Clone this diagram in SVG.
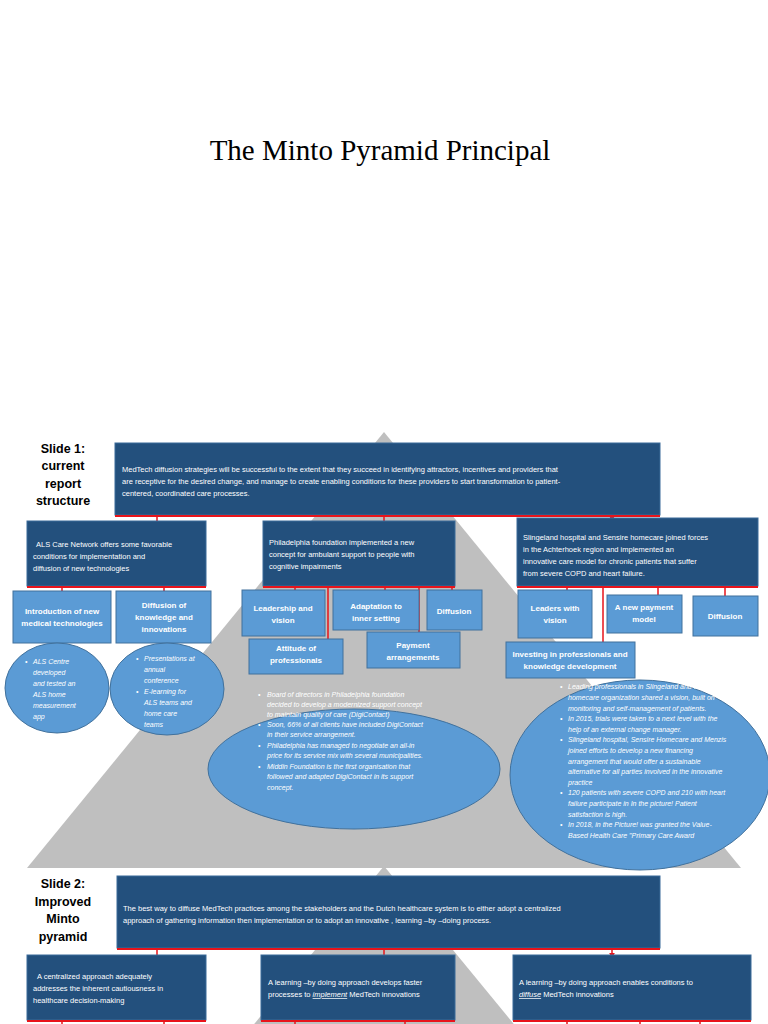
<svg xmlns="http://www.w3.org/2000/svg" width="768" height="1024" viewBox="0 0 768 1024">
<style>
.dk{fill:#23507d;stroke:#3a6a99;stroke-width:1}
.lt{fill:#5b9bd5;stroke:#41719c;stroke-width:1}
.sh{stroke:#e8141b;stroke-width:2}
.t{font-family:"Liberation Sans",Arial,sans-serif;fill:#fff;font-size:7.5px}
.tb{font-family:"Liberation Sans",Arial,sans-serif;fill:#fff;font-size:8px;font-weight:bold}
.ti{font-family:"Liberation Sans",Arial,sans-serif;fill:#fff;font-size:7px;font-style:italic}
.sl{font-family:"Liberation Sans",Arial,sans-serif;fill:#000;font-size:12.5px;font-weight:bold;text-anchor:middle}
.c{stroke:#e8141b;stroke-width:1.5;fill:none}
</style>
<defs><marker id="a" viewBox="0 0 10 10" refX="9" refY="5" markerWidth="4" markerHeight="4" orient="auto"><path d="M0,0L10,5L0,10z" fill="#e8141b"/></marker></defs>
<rect width="768" height="1024" fill="#fff"/>
<text x="380" y="160" text-anchor="middle" font-family="Liberation Serif,serif" font-size="29">The Minto Pyramid Principal</text>
<polygon points="384,432 27,868 741,868" fill="#bfbfbf"/>
<polygon points="384,866 200,1090 568,1090" fill="#bfbfbf"/>
<text class="sl" x="63" y="453">Slide 1:</text><text class="sl" x="63" y="470">current</text><text class="sl" x="63" y="488">report</text><text class="sl" x="63" y="505">structure</text>
<text class="sl" x="63" y="888">Slide 2:</text><text class="sl" x="63" y="906">Improved</text><text class="sl" x="63" y="923">Minto</text><text class="sl" x="63" y="941">pyramid</text>
<g id="connectors">
<path class="c" marker-end="url(#a)" d="M157,515V524M384,515V524M612,515V521"/>
<path class="c" d="M62,586V591M164,586V591M295,586V590M328,586V639M385,586V590M419,586V632M452,586V590M567,586V590M603,586V642M658,586V595M725,586V596"/>
<path class="c" marker-end="url(#a)" d="M157,948V958M384,948V958M612,948V958"/>
<path class="c" d="M62,1020V1024M164,1020V1024M295,1020V1024M405,1020V1024M567,1020V1024M640,1020V1024M700,1020V1024"/>
</g>
<g id="top1"><rect class="dk" x="115" y="443" width="545" height="72"/><line class="sh" x1="115" y1="516" x2="660" y2="516"/>
<text class="t" x="122" y="472">MedTech diffusion strategies will be successful to the extent that they succeed in identifying attractors, incentives and providers that</text>
<text class="t" x="122" y="484">are receptive for the desired change, and manage to create enabling conditions for these providers to start transformation to patient-</text>
<text class="t" x="122" y="496">centered, coordinated care processes.</text></g>
<g id="L1"><rect class="dk" x="27" y="521" width="179" height="65"/><line class="sh" x1="27" y1="587" x2="206" y2="587"/>
<text class="t" x="36" y="547">ALS Care Network offers some favorable</text><text class="t" x="33" y="559">conditions for implementation and</text><text class="t" x="33" y="571">diffusion of new technologies</text></g>
<g id="M1"><rect class="dk" x="263" y="521" width="192" height="65"/><line class="sh" x1="263" y1="587" x2="455" y2="587"/>
<text class="t" x="269" y="545">Philadelphia foundation implemented a new</text><text class="t" x="269" y="557">concept for ambulant support to people with</text><text class="t" x="269" y="569">cognitive impairments</text></g>
<g id="R1"><rect class="dk" x="517" y="518" width="241" height="68"/><line class="sh" x1="517" y1="587" x2="758" y2="587"/>
<text class="t" x="523" y="540">Slingeland hospital and Sensire homecare joined forces</text><text class="t" x="523" y="552">in the Achterhoek region and implemented an</text><text class="t" x="523" y="564">innovative care model for chronic patients that suffer</text><text class="t" x="523" y="576">from severe COPD and heart failure.</text></g>
<g id="n1"><rect class="lt" x="13" y="591" width="98" height="52"/><text class="tb" x="62" y="614" text-anchor="middle">Introduction of new</text><text class="tb" x="62" y="626" text-anchor="middle">medical technologies</text></g>
<g id="n2"><rect class="lt" x="116" y="591" width="95" height="52"/><text class="tb" x="164" y="608" text-anchor="middle">Diffusion of</text><text class="tb" x="164" y="620" text-anchor="middle">knowledge and</text><text class="tb" x="164" y="632" text-anchor="middle">innovations</text></g>
<g id="e1"><ellipse class="lt" cx="57" cy="688" rx="52" ry="45"/><text class="ti" x="25" y="664">•</text><text class="ti" x="33" y="664">ALS Centre</text><text class="ti" x="33" y="675">developed</text><text class="ti" x="33" y="686">and tested an</text><text class="ti" x="33" y="697">ALS home</text><text class="ti" x="33" y="708">measurement</text><text class="ti" x="33" y="719">app</text></g>
<g id="e2"><ellipse class="lt" cx="167" cy="689" rx="57" ry="46"/><text class="ti" x="136" y="661">•</text><text class="ti" x="144" y="661">Presentations at</text><text class="ti" x="144" y="672">annual</text><text class="ti" x="144" y="683">conference</text><text class="ti" x="136" y="694">•</text><text class="ti" x="144" y="694">E-learning for</text><text class="ti" x="144" y="705">ALS teams and</text><text class="ti" x="144" y="716">home care</text><text class="ti" x="144" y="727">teams</text></g>
<g id="n3"><rect class="lt" x="242" y="590" width="83" height="46"/><text class="tb" x="283" y="611" text-anchor="middle">Leadership and</text><text class="tb" x="283" y="623" text-anchor="middle">vision</text></g>
<g id="n4"><rect class="lt" x="249" y="639" width="94" height="35"/><text class="tb" x="296" y="651" text-anchor="middle">Attitude of</text><text class="tb" x="296" y="663" text-anchor="middle">professionals</text></g>
<g id="n5"><rect class="lt" x="333" y="590" width="86" height="40"/><text class="tb" x="376" y="609" text-anchor="middle">Adaptation to</text><text class="tb" x="376" y="621" text-anchor="middle">inner setting</text></g>
<g id="n6"><rect class="lt" x="367" y="632" width="93" height="36"/><text class="tb" x="413" y="648" text-anchor="middle">Payment</text><text class="tb" x="413" y="660" text-anchor="middle">arrangements</text></g>
<g id="n7"><rect class="lt" x="427" y="590" width="55" height="40"/><text class="tb" x="454" y="614" text-anchor="middle">Diffusion</text></g>
<g id="e3"><ellipse class="lt" cx="354" cy="769" rx="146" ry="60"/>
<text class="ti" x="258" y="697">•</text><text class="ti" x="267" y="697">Board of directors in Philadelphia foundation</text><text class="ti" x="267" y="707">decided to develop a modernized support concept</text><text class="ti" x="267" y="717">to maintain quality of care (DigiContact)</text>
<text class="ti" x="258" y="727">•</text><text class="ti" x="267" y="727">Soon, 66% of all clients have included DigiContact</text><text class="ti" x="267" y="737">in their service arrangement.</text>
<text class="ti" x="258" y="748">•</text><text class="ti" x="267" y="748">Philadelphia has managed to negotiate an all-in</text><text class="ti" x="267" y="758">price for its service mix with several municipalities.</text>
<text class="ti" x="258" y="769">•</text><text class="ti" x="267" y="769">Middin Foundation is the first organisation that</text><text class="ti" x="267" y="779">followed and adapted DigiContact in its support</text><text class="ti" x="267" y="790">concept.</text></g>
<g id="n8"><rect class="lt" x="518" y="590" width="74" height="48"/><text class="tb" x="555" y="611" text-anchor="middle">Leaders with</text><text class="tb" x="555" y="623" text-anchor="middle">vision</text></g>
<g id="n9"><rect class="lt" x="607" y="595" width="75" height="38"/><text class="tb" x="644" y="610" text-anchor="middle">A new payment</text><text class="tb" x="644" y="622" text-anchor="middle">model</text></g>
<g id="n10"><rect class="lt" x="693" y="596" width="65" height="40"/><text class="tb" x="725" y="619" text-anchor="middle">Diffusion</text></g>
<g id="n11"><rect class="lt" x="506" y="642" width="129" height="36"/><text class="tb" x="570" y="657" text-anchor="middle">Investing in professionals and</text><text class="tb" x="570" y="669" text-anchor="middle">knowledge development</text></g>
<g id="e4"><ellipse class="lt" cx="640" cy="775" rx="130" ry="95"/>
<text class="ti" x="560" y="689">•</text><text class="ti" x="568" y="689">Leading professionals in Slingeland and the</text><text class="ti" x="568" y="700">homecare organization shared a vision, built on</text><text class="ti" x="568" y="711">monitoring and self-management of patients.</text>
<text class="ti" x="560" y="721">•</text><text class="ti" x="568" y="721">In 2015, trials were taken to a next level with the</text><text class="ti" x="568" y="732">help of an external change manager.</text>
<text class="ti" x="560" y="742">•</text><text class="ti" x="568" y="742">Slingeland hospital, Sensire Homecare and Menzis</text><text class="ti" x="568" y="753">joined efforts to develop a new financing</text><text class="ti" x="568" y="764">arrangement that would offer a sustainable</text><text class="ti" x="568" y="774">alternative for all parties involved in the innovative</text><text class="ti" x="568" y="785">practice</text>
<text class="ti" x="560" y="795">•</text><text class="ti" x="568" y="795">120 patients with severe COPD and 210 with heart</text><text class="ti" x="568" y="806">failure participate in In the picture! Patient</text><text class="ti" x="568" y="817">satisfaction is high.</text>
<text class="ti" x="560" y="827">•</text><text class="ti" x="568" y="827">In 2018, in the Picture! was granted the Value-</text><text class="ti" x="568" y="838">Based Health Care "Primary Care Award</text></g>
<g id="top2"><rect class="dk" x="117" y="876" width="543" height="72"/><line class="sh" x1="117" y1="949" x2="660" y2="949"/>
<text class="t" x="123" y="911">The best way to diffuse MedTech practices among the stakeholders and the Dutch healthcare system is  to either adopt a centralized</text>
<text class="t" x="123" y="923">approach of gathering information then implementation or to adopt an innovative , learning –by –doing process.</text></g>
<g id="L2"><rect class="dk" x="27" y="955" width="179" height="65"/><line class="sh" x1="27" y1="1021" x2="206" y2="1021"/>
<text class="t" x="37" y="979">A centralized approach adequately</text><text class="t" x="33" y="991">addresses the inherent cautiousness in</text><text class="t" x="33" y="1003">healthcare decision-making</text></g>
<g id="M2"><rect class="dk" x="261" y="955" width="194" height="65"/><line class="sh" x1="261" y1="1021" x2="455" y2="1021"/>
<text class="t" x="268" y="985">A learning –by doing approach develops faster</text><text class="t" x="268" y="997">processes to <tspan text-decoration="underline" font-style="italic">implement</tspan>  MedTech innovations</text></g>
<g id="R2"><rect class="dk" x="513" y="955" width="238" height="65"/><line class="sh" x1="513" y1="1021" x2="751" y2="1021"/>
<text class="t" x="519" y="985">A learning –by doing approach enables conditions to</text><text class="t" x="519" y="997"><tspan text-decoration="underline" font-style="italic">diffuse</tspan>  MedTech innovations</text></g>
</svg>
